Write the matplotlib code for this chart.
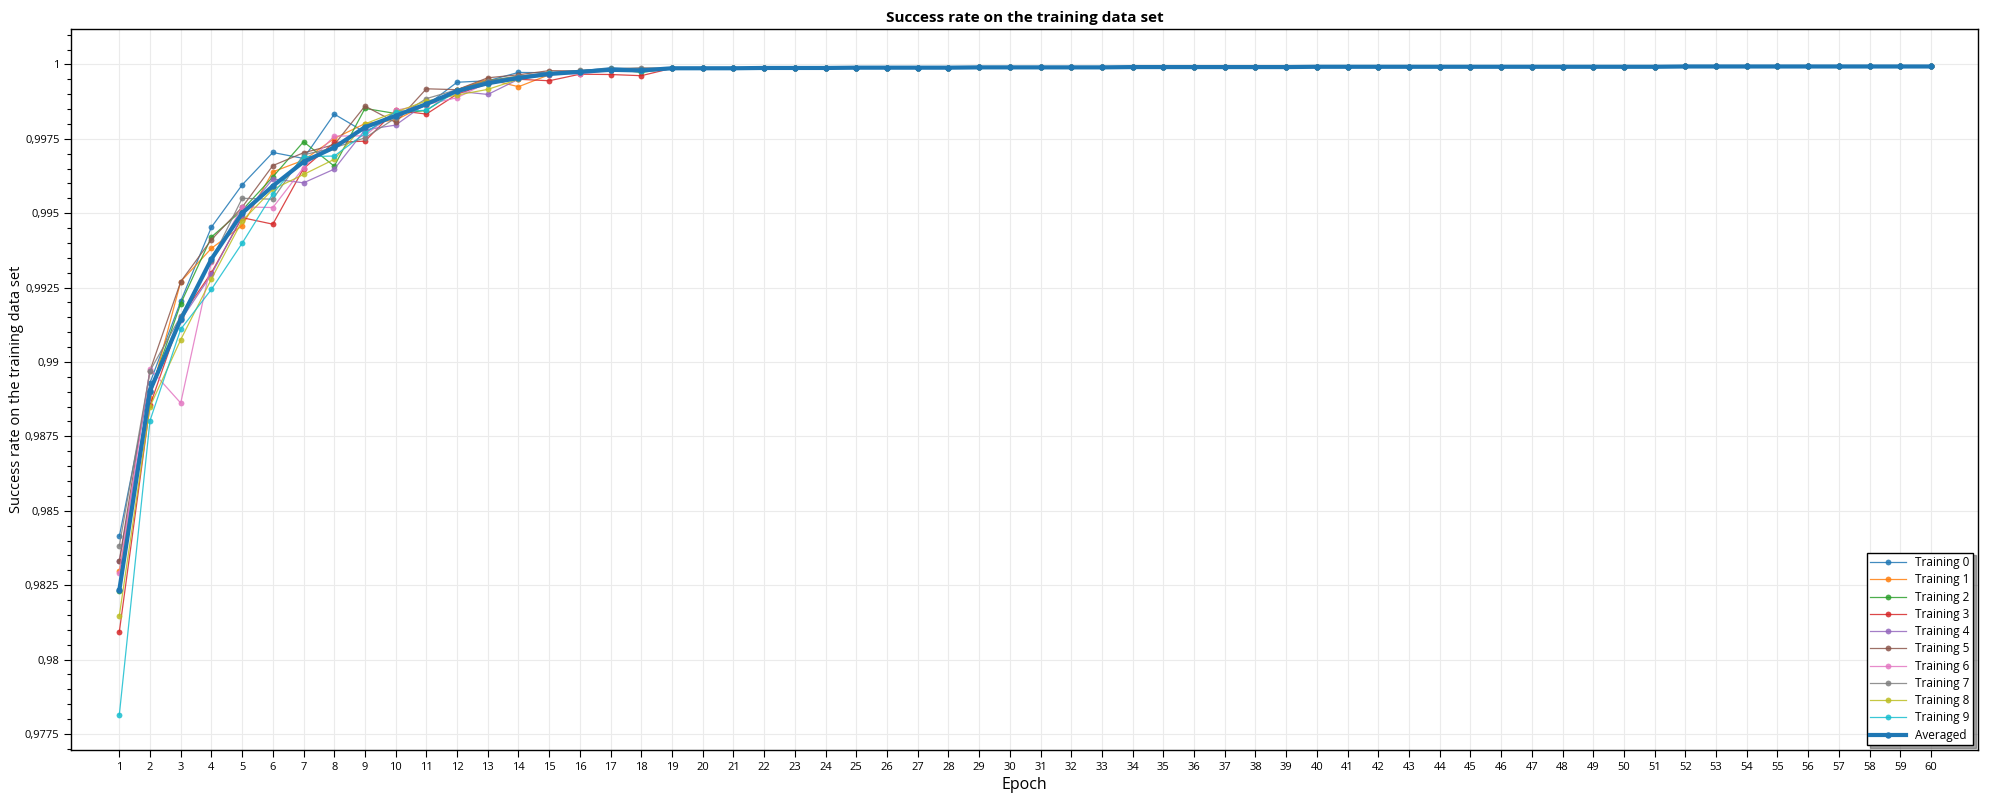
import numpy as np
import matplotlib.pyplot as plt
from matplotlib.ticker import MultipleLocator, FuncFormatter

plt.rcParams['font.family'] = ['Open Sans', 'DejaVu Sans']

# Epochs 1..60
epochs = list(range(1, 61))

# Per-run success rates for epochs 1..19
training_0 = [0.98414, 0.98930, 0.99204, 0.99453, 0.99595, 0.99704, 0.99684, 0.99833, 0.99772, 0.99830,
              0.99862, 0.99940, 0.99945, 0.99973, 0.99972, 0.99978, 0.99989, 0.99984, 0.99987]
training_1 = [0.98297, 0.98880, 0.99270, 0.99382, 0.99458, 0.99639, 0.99678, 0.99751, 0.99801, 0.99813,
              0.99865, 0.99915, 0.99950, 0.99925, 0.99965, 0.99975, 0.99982, 0.99982, 0.99987]
training_2 = [0.98230, 0.98900, 0.99196, 0.99420, 0.99510, 0.99622, 0.99740, 0.99658, 0.99852, 0.99835,
              0.99845, 0.99915, 0.99945, 0.99960, 0.99970, 0.99978, 0.99985, 0.99973, 0.99987]
training_3 = [0.98093, 0.98854, 0.99150, 0.99300, 0.99485, 0.99463, 0.99650, 0.99738, 0.99742, 0.99846,
              0.99833, 0.99900, 0.99935, 0.99950, 0.99945, 0.99967, 0.99966, 0.99962, 0.99987]
training_4 = [0.98331, 0.98900, 0.99140, 0.99294, 0.99490, 0.99615, 0.99602, 0.99648, 0.99780, 0.99796,
              0.99870, 0.99910, 0.99899, 0.99950, 0.99965, 0.99975, 0.99982, 0.99982, 0.99987]
training_5 = [0.98331, 0.98971, 0.99270, 0.99411, 0.99520, 0.99660, 0.99703, 0.99730, 0.99860, 0.99805,
              0.99918, 0.99915, 0.99955, 0.99965, 0.99979, 0.99978, 0.99985, 0.99984, 0.99987]
training_6 = [0.98290, 0.98977, 0.98862, 0.99336, 0.99521, 0.99519, 0.99653, 0.99759, 0.99760, 0.99846,
              0.99865, 0.99888, 0.99940, 0.99955, 0.99970, 0.99968, 0.99980, 0.99980, 0.99987]
training_7 = [0.98382, 0.98970, 0.99154, 0.99340, 0.99550, 0.99547, 0.99696, 0.99720, 0.99753, 0.99820,
              0.99885, 0.99915, 0.99945, 0.99960, 0.99972, 0.99980, 0.99985, 0.99989, 0.99987]
training_8 = [0.98147, 0.98850, 0.99075, 0.99279, 0.99474, 0.99580, 0.99630, 0.99681, 0.99800, 0.99840,
              0.99877, 0.99897, 0.99916, 0.99950, 0.99970, 0.99975, 0.99982, 0.99982, 0.99987]
training_9 = [0.97814, 0.98803, 0.99110, 0.99244, 0.99399, 0.99565, 0.99690, 0.99692, 0.99768, 0.99841,
              0.99846, 0.99910, 0.99935, 0.99955, 0.99970, 0.99975, 0.99982, 0.99978, 0.99987]

# Epochs 20..60: all runs sit on top of each other
tail = [0.99987, 0.99987, 0.99988, 0.99988, 0.99988, 0.99989, 0.99989, 0.99989, 0.99989, 0.99990,
        0.99990, 0.99990, 0.99990, 0.99990, 0.99991, 0.99991, 0.99991, 0.99991, 0.99991, 0.99991,
        0.99992, 0.99992, 0.99992, 0.99992, 0.99992, 0.99992, 0.99992, 0.99992, 0.99992, 0.99992,
        0.99992, 0.99992, 0.99993, 0.99993, 0.99993, 0.99993, 0.99993, 0.99993, 0.99993, 0.99993,
        0.99993]

runs = [training_0, training_1, training_2, training_3, training_4,
        training_5, training_6, training_7, training_8, training_9]
labels = ['Training %d' % i for i in range(10)]
colors = plt.cm.tab10.colors

runs = [np.array(r + tail) for r in runs]
averaged = np.mean(runs, axis=0)

fig = plt.figure(figsize=(20, 8), dpi=100)
ax = fig.add_axes([0.0357, 0.0625, 0.9533, 0.9009])

for r, lab, col in zip(runs, labels, colors):
    ax.plot(epochs, r, color=col, lw=0.9, alpha=0.85, marker='o', ms=4.2,
            markeredgewidth=0, label=lab)
ax.plot(epochs, averaged, color='#1f77b4', lw=3, marker='o', ms=4.6,
        markeredgewidth=0, label='Averaged')

ax.set_xlim(-0.56, 61.53)
ax.set_ylim(0.97696, 1.00118)
ax.set_xticks(epochs)
ax.yaxis.set_major_locator(MultipleLocator(0.0025))
ax.yaxis.set_minor_locator(MultipleLocator(0.0005))

def comma_fmt(v, pos):
    s = ('%.4f' % v).rstrip('0').rstrip('.')
    return s.replace('.', ',')

ax.yaxis.set_major_formatter(FuncFormatter(comma_fmt))
ax.tick_params(axis='both', which='major', labelsize=8, length=5, width=0.8, colors='black')
ax.tick_params(axis='y', which='minor', length=3, width=0.8)
ax.grid(True, which='major', color='#ebebeb', lw=0.8)
ax.set_axisbelow(True)
for sp in ax.spines.values():
    sp.set_linewidth(1.0)
    sp.set_color('black')

ax.set_title('Success rate on the training data set', fontsize=11, fontweight='bold', pad=5)
ax.set_xlabel('Epoch', fontsize=11.5, labelpad=3)
ax.set_ylabel('Success rate on the training data set', fontsize=10.5, labelpad=1)

leg = ax.legend(loc='lower right', fontsize=8.5, frameon=True, fancybox=False, shadow=True,
                edgecolor='black', framealpha=1, labelspacing=0.36, handlelength=3.0,
                borderaxespad=0.4, borderpad=0.3)
leg.get_frame().set_linewidth(1.0)

fig.savefig('out.png', dpi=100)
